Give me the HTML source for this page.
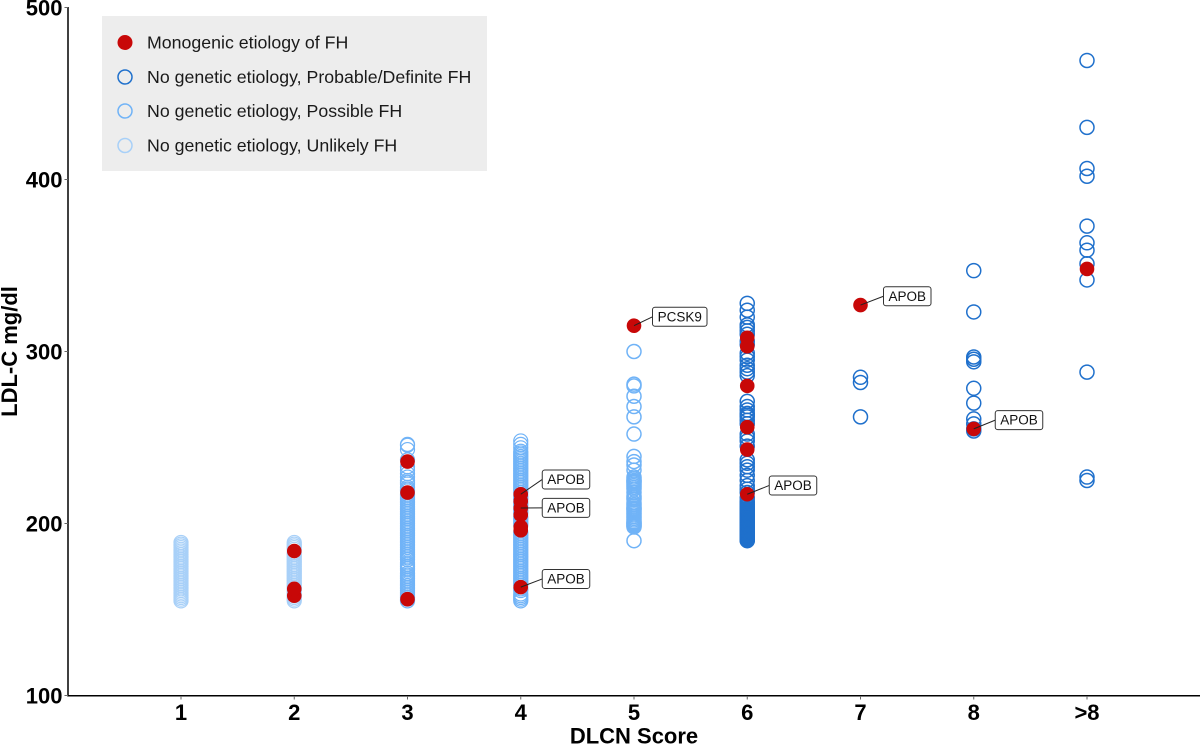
<!DOCTYPE html>
<html lang="en">
<head>
<meta charset="utf-8">
<title>LDL-C by DLCN Score</title>
<style>
html,body{margin:0;padding:0;background:#fff;width:1200px;height:746px;overflow:hidden}
svg{display:block;font-family:"Liberation Sans",Arial,sans-serif}
.tick{font-size:22px;font-weight:700;fill:#000}
.title{font-size:22px;font-weight:700;fill:#000}
.leg{font-size:17.75px;fill:#1a1a1a}
.ann{font-size:13.5px;fill:#111}
</style>
</head>
<body>
<svg id="chart" width="1200" height="746" viewBox="0 0 1200 746" xmlns="http://www.w3.org/2000/svg">
  <g id="legend">
    <rect x="102" y="16" width="385" height="155" fill="#ededed"/>
    <circle cx="125" cy="42.5" r="7.5" fill="#c80808"/>
    <text class="leg" x="147" y="48.5">Monogenic etiology of FH</text>
    <circle cx="125" cy="77" r="7" fill="none" stroke="#1f70cc" stroke-width="1.5"/>
    <text class="leg" x="147" y="83">No genetic etiology, Probable/Definite FH</text>
    <circle cx="125" cy="111" r="7" fill="none" stroke="#70b3f7" stroke-width="1.5"/>
    <text class="leg" x="147" y="117">No genetic etiology, Possible FH</text>
    <circle cx="125" cy="145.5" r="7" fill="none" stroke="#a8d0f8" stroke-width="1.5"/>
    <text class="leg" x="147" y="151.5">No genetic etiology, Unlikely FH</text>
  </g>
  <g id="marks"></g>
  <g id="axes"></g>
  <g id="annotations"></g>
</svg>
<script>
const categories = ['1','2','3','4','5','6','7','8','>8'];
const yTicks = [100,200,300,400,500];

const unlikelyCat1 = [155,156,157,158,159,160,161,162,163,164,165,166,167,168,169,170,171,172,173,174,175,176,177,178,179,180,181,182,183,184,185,186,187,188,189];
const unlikelyCat2 = [155,156,157,158,159,160,161,162,163,164,165,166,167,168,169,170,171,172,173,174,175,176,177,178,179,180,181,182,183,185,186,187,188,189];
const possibleCat3 = [155,156,157,158,159,160,161,162,163,164,165,166,167,168,169,170,171,173,174,175,176,177,179,180,181,182,183,184,185,186,187,188,189,190,191,192,193,194,195,196,197,198,199,200,201,202,203,204,205,206,207,208,209,210,211,212,213,214,215,216,217,219,220,221,223,224,225,227,229,231,233,237,243,245.5,246];
const possibleCat4 = [155,156,157,158,159,161,162,164,165,166,167,168,169,170,171,172,173,174,175,176,177,178,179,180,181,182,183,184,185,186,187,188,189,190,191,192,193,194,195,199,200,201,202,203,204,206,207,208,210,211,212,214,215,216,218,219,220,221,222,223,224,225,226,227,228,229,230,231,232,233,234,235,236,237,238,239,240,241,242,244,246,248];
const possibleCat5 = [190,198,198.5,199,199.5,200,200.5,201,202,203,204,205,206,207,208,208.5,209,210,211,212,214,215,216,218,220,221,222,223,224,224.5,225,226,227,231,234,236,239,252,262,268,274,280,281,300];
const definiteCat6 = [190,190.4,190.8,191.2,191.6,192,192.4,192.8,193.2,193.6,194,194.5,195,195.5,196,196.5,197,197.5,198,198.5,199,199.5,200,200.5,201,201.5,202,202.5,203,203.5,204,204.5,205,205.5,206,206.5,207,207.5,208,208.5,209,210,211,212,213,215,218,220,222,225,228,231,233,235,237,245,248,250,252,258,260,262,263,264,266,268,271,286,288,290,292,295,297,299,304,306,310,312,314,315.5,320,324,328];
const definiteCat7 = [262,282,285];
const definiteCat8 = [253.8,255,257.9,260.8,270,278.6,294,295.5,296.8,323,347];
const definiteCat9 = [225,227,288,341.6,351,358.9,363.2,372.9,401.9,406.4,430.3,469.2];

const monogenicCat2 = [158,162,184];
const monogenicCat3 = [156,218,236];
const monogenicCat4 = [163,196,198,205,209,213,217];
const monogenicCat5 = [315];
const monogenicCat6 = [217,243,256,280,303,308];
const monogenicCat7 = [327];
const monogenicCat8 = [255];
const monogenicCat9 = [348];

const NS = 'http://www.w3.org/2000/svg';
const xScale = i => 181 + i * 113.25;
const yScale = v => 695.5 - (v - 100) * 1.72;

function make(tag, attrs, parent, text) {
  const el = document.createElementNS(NS, tag);
  for (const k in attrs) el.setAttribute(k, attrs[k]);
  if (text !== undefined) el.textContent = text;
  parent.appendChild(el);
  return el;
}

const marks = document.getElementById('marks');
const axes = document.getElementById('axes');
const annotations = document.getElementById('annotations');

function drawOpen(values, cat, colour, sw) {
  values.forEach(v => {
    const c = make('circle', {cx: xScale(cat), cy: yScale(v), r: 7, fill: 'none', stroke: colour, 'stroke-width': sw}, marks);
    
    
  });
}
function drawSolid(values, cat) {
  values.forEach(v => {
    const c = make('circle', {cx: xScale(cat), cy: yScale(v), r: 7.3, fill: '#c80808'}, marks);
    
    
  });
}

const unlikelyColour = '#a8d0f8', possibleColour = '#70b3f7', definiteColour = '#1f70cc';
drawOpen(unlikelyCat1, 0, unlikelyColour, 1.2);
drawOpen(unlikelyCat2, 1, unlikelyColour, 1.2);
drawOpen(possibleCat3, 2, possibleColour, 1.2);
drawOpen(possibleCat4, 3, possibleColour, 1.2);
drawOpen(possibleCat5, 4, possibleColour, 1.5);
drawOpen(definiteCat6, 5, definiteColour, 1.5);
drawOpen(definiteCat7, 6, definiteColour, 1.5);
drawOpen(definiteCat8, 7, definiteColour, 1.5);
drawOpen(definiteCat9, 8, definiteColour, 1.5);
drawSolid(monogenicCat2, 1);
drawSolid(monogenicCat3, 2);
drawSolid(monogenicCat4, 3);
drawSolid(monogenicCat5, 4);
drawSolid(monogenicCat6, 5);
drawSolid(monogenicCat7, 6);
drawSolid(monogenicCat8, 7);
drawSolid(monogenicCat9, 8);

/* axes */
const yLine = make('line', {x1: 68, x2: 68, y1: 7, y2: 696.3, stroke: '#000', 'stroke-width': 1.5}, axes);


const xLine = make('line', {x1: 67.3, x2: 1200, y1: 695.7, y2: 695.7, stroke: '#000', 'stroke-width': 1.5}, axes);



yTicks.forEach(t => {
  const m = make('line', {x1: 64.5, x2: 68, y1: yScale(t), y2: yScale(t), stroke: '#666', 'stroke-width': 1}, axes);
  
  
  const l = make('text', {x: 62.5, y: yScale(t) + 8.2, 'text-anchor': 'end', class: 'tick'}, axes, t);
  
  
});
categories.forEach((c, i) => {
  const m = make('line', {x1: xScale(i), x2: xScale(i), y1: 696, y2: 699.5, stroke: '#666', 'stroke-width': 1}, axes);
  
  
  const l = make('text', {x: xScale(i), y: 720, 'text-anchor': 'middle', class: 'tick'}, axes, c);
  
  
});
const xTitle = make('text', {x: 634, y: 743.5, 'text-anchor': 'middle', class: 'title'}, axes, 'DLCN Score');


const yTitle = make('text', {x: 0, y: 0, 'text-anchor': 'middle', class: 'title', transform: 'translate(17 351.5) rotate(-90)'}, axes, 'LDL-C mg/dl');



/* gene callouts: anchored on a data point, box offset relative to that point */
function callout(cat, value, gene, dx, dy) {
  const px = xScale(cat), py = yScale(value);
  const w = gene.length > 4 ? 54.5 : 47.5, h = 19;
  const bx = px + dx, by = py + dy;
  const g = make('g', {}, annotations);
  
  
  const ln = make('line', {x1: px, y1: py, x2: bx, y2: by + h / 2, stroke: '#222', 'stroke-width': 1}, g);
  
  
  const r = make('rect', {x: bx, y: by, width: w, height: h, rx: 2.5, fill: '#fff', stroke: '#333', 'stroke-width': 1}, g);
  
  
  const t = make('text', {x: bx + w / 2, y: by + 14, 'text-anchor': 'middle', class: 'ann'}, g, gene);
  
  
}
callout(3, monogenicCat4[6], 'APOB', 21.5, -24.3);
callout(3, monogenicCat4[4], 'APOB', 21.5, -9.7);
callout(3, monogenicCat4[0], 'APOB', 21.5, -17.7);
callout(4, monogenicCat5[0], 'PCSK9', 18.5, -18.4);
callout(5, monogenicCat6[0], 'APOB', 22, -18.3);
callout(6, monogenicCat7[0], 'APOB', 23, -18.3);
callout(7, monogenicCat8[0], 'APOB', 21.5, -18.3);
</script>
</body>
</html>
